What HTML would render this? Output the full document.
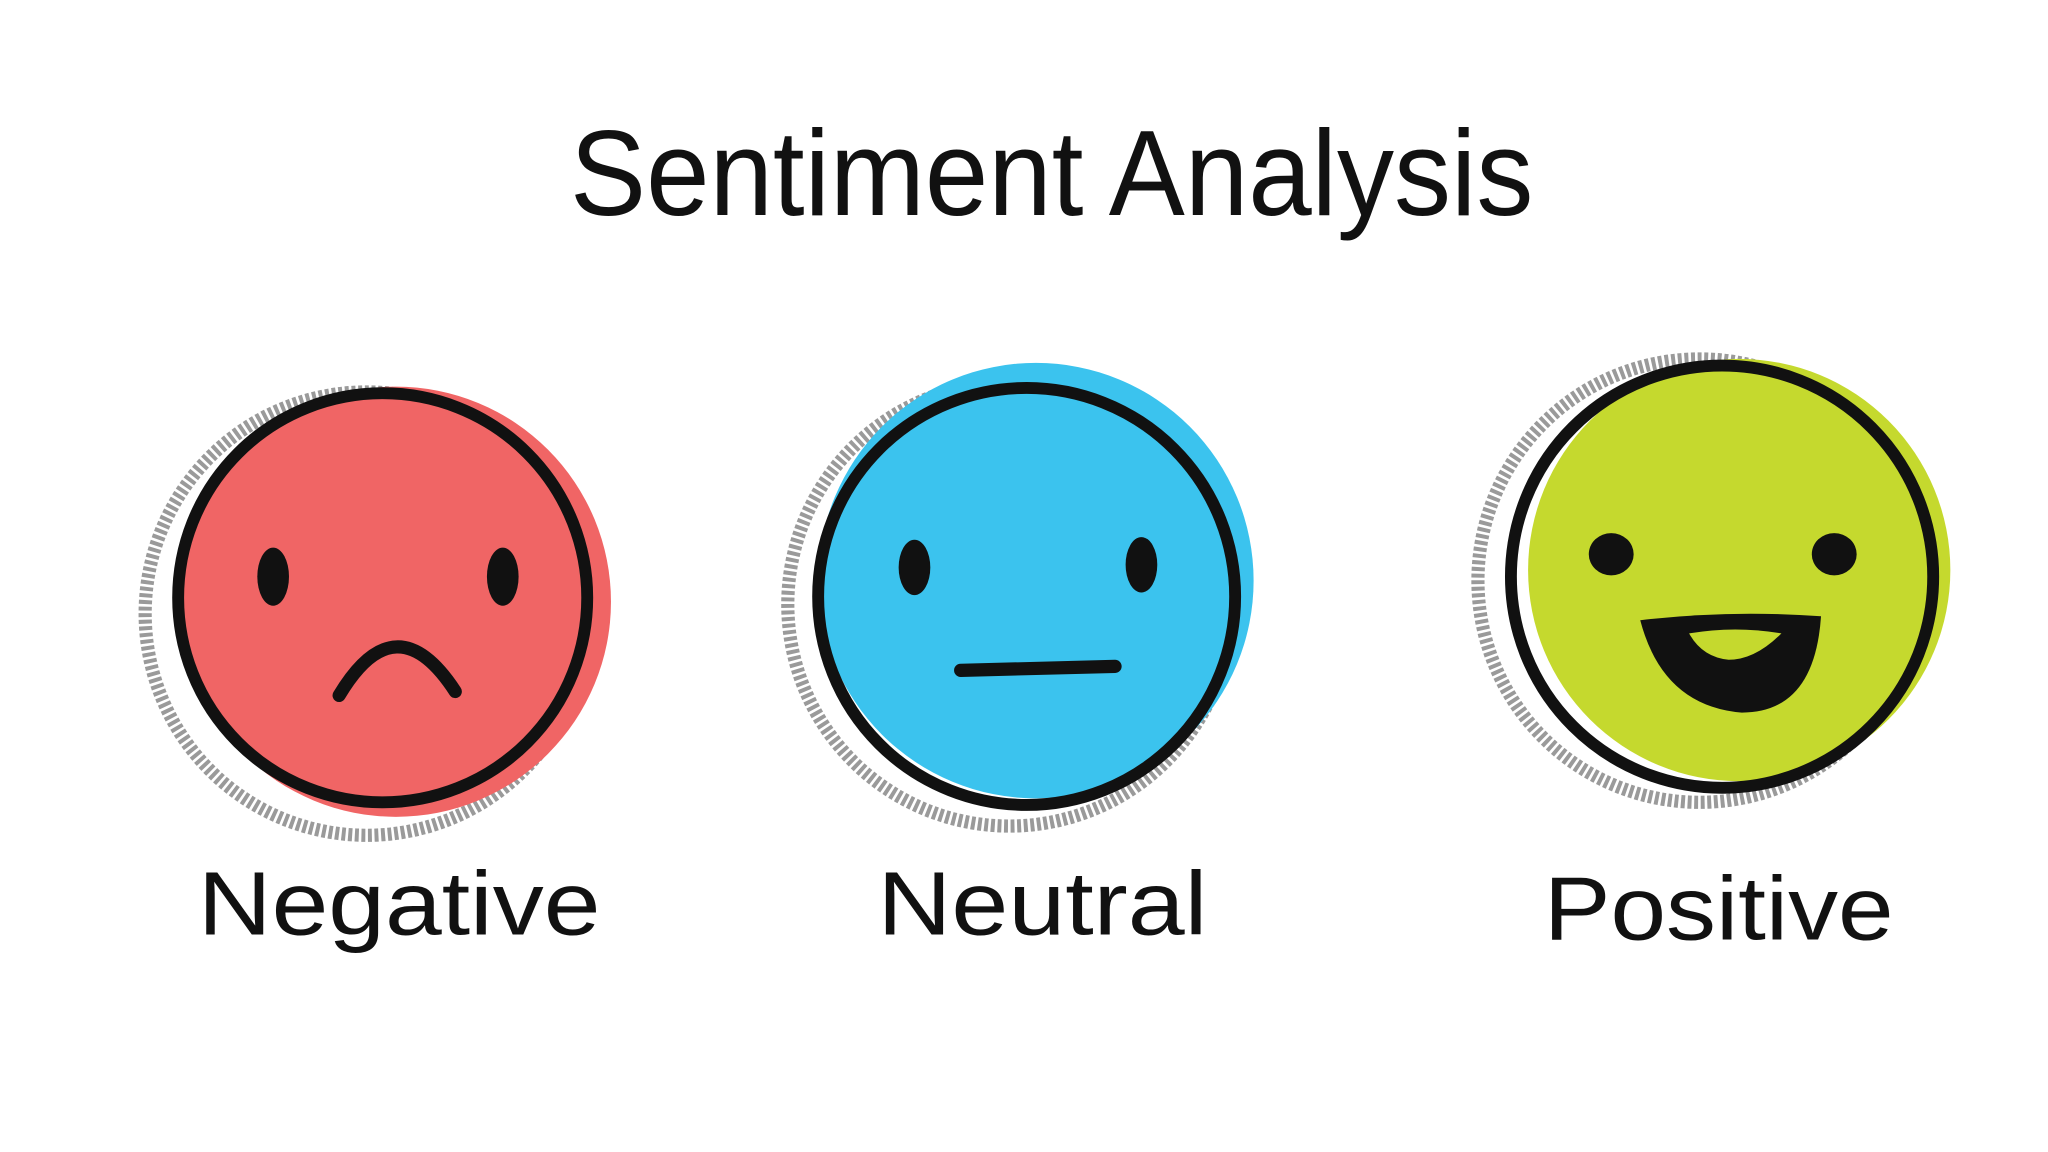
<!DOCTYPE html>
<html><head><meta charset="utf-8"><style>
html,body{margin:0;padding:0;background:#fff;}
svg{display:block;}
text{font-family:"Liberation Sans",sans-serif;fill:#111;}
</style></head><body>
<svg width="2048" height="1152" viewBox="0 0 1552 873" preserveAspectRatio="none" xmlns="http://www.w3.org/2000/svg">
<rect width="1552" height="873" fill="#fff"/>
<text x="432" y="163" font-size="92" textLength="730" lengthAdjust="spacingAndGlyphs">Sentiment Analysis</text>

<!-- Negative -->
<circle cx="278" cy="465" r="168" fill="none" stroke="#9a9a9a" stroke-width="10" stroke-dasharray="3 2"/>
<circle cx="300" cy="456" r="163" fill="#f06565"/>
<circle cx="290" cy="453" r="155" fill="none" stroke="#111" stroke-width="9"/>
<ellipse cx="207" cy="437" rx="12" ry="22" fill="#111"/>
<ellipse cx="381" cy="437" rx="12" ry="22" fill="#111"/>
<path d="M257 527 Q300 455 345 524" fill="none" stroke="#111" stroke-width="10" stroke-linecap="round"/>
<text x="150" y="708" font-size="68" textLength="305" lengthAdjust="spacingAndGlyphs">Negative</text>

<!-- Neutral -->
<circle cx="765" cy="458" r="168" fill="none" stroke="#9a9a9a" stroke-width="10" stroke-dasharray="3 2"/>
<circle cx="785" cy="440" r="165" fill="#3bc3ee"/>
<circle cx="778" cy="452" r="158" fill="none" stroke="#111" stroke-width="9"/>
<ellipse cx="693" cy="430" rx="12" ry="21" fill="#111"/>
<ellipse cx="865" cy="428" rx="12" ry="21" fill="#111"/>
<path d="M728 508 L845 505" stroke="#111" stroke-width="10" stroke-linecap="round"/>
<text x="665" y="708" font-size="68" textLength="250" lengthAdjust="spacingAndGlyphs">Neutral</text>

<!-- Positive -->
<circle cx="1288" cy="440" r="168" fill="none" stroke="#9a9a9a" stroke-width="10" stroke-dasharray="3 2"/>
<circle cx="1318" cy="432" r="160" fill="#c5d92e"/>
<circle cx="1305" cy="437" r="160" fill="none" stroke="#111" stroke-width="9"/>
<ellipse cx="1221" cy="420" rx="17" ry="16" fill="#111"/>
<ellipse cx="1390" cy="420" rx="17" ry="16" fill="#111"/>
<path d="M1243 470 Q1310 462 1380 467 Q1375 540 1320 540 Q1260 535 1243 470 Z" fill="#111"/>
<path d="M1280 480 Q1315 474 1350 480 Q1330 500 1310 500 Q1290 498 1280 480 Z" fill="#c5d92e"/>
<text x="1170" y="712" font-size="68" textLength="265" lengthAdjust="spacingAndGlyphs">Positive</text>
</svg>
</body></html>
